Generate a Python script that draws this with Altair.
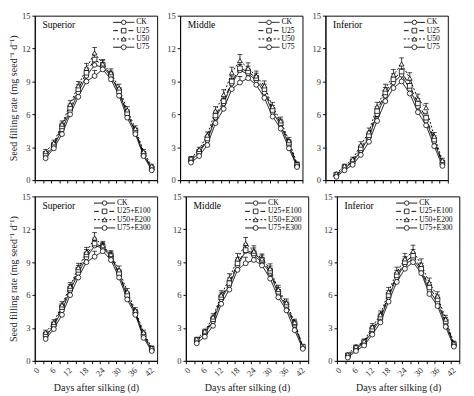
import altair as alt
import pandas as pd

days = [4, 7, 10, 13, 16, 19, 22, 25, 28, 31, 34, 37, 40, 43]
keys = ["s1", "s2", "s3", "s4"]
names_top = ["CK", "U25", "U50", "U75"]
names_bot = ["CK", "U25+E100", "U50+E200", "U75+E300"]
positions = ["Superior", "Middle", "Inferior"]

# ---- top row (urea treatments) ----
top_sup = {
    "s1": [2.2, 3.1, 4.6, 6.3, 8.0, 9.5, 10.5, 10.3, 9.5, 8.0, 6.0, 4.4, 2.4, 1.0],
    "s2": [2.4, 3.2, 4.9, 6.6, 8.3, 9.8, 11.0, 10.5, 9.6, 8.1, 6.1, 4.5, 2.4, 1.1],
    "s3": [2.6, 3.4, 5.1, 6.9, 8.6, 10.2, 11.6, 10.6, 9.8, 8.4, 6.4, 4.7, 2.6, 1.3],
    "s4": [2.0, 2.9, 4.2, 6.0, 7.6, 9.0, 9.5, 10.1, 9.2, 7.7, 5.7, 4.2, 2.2, 0.9],
}
top_mid = {
    "s1": [1.8, 2.5, 3.6, 5.7, 7.0, 8.8, 10.0, 9.7, 9.1, 8.0, 6.2, 5.0, 3.2, 1.3],
    "s2": [1.9, 2.6, 3.8, 5.9, 7.2, 9.0, 10.2, 9.9, 9.3, 8.3, 6.4, 5.2, 3.4, 1.4],
    "s3": [2.0, 2.8, 4.1, 6.3, 7.8, 9.8, 10.9, 10.2, 9.5, 8.6, 6.7, 5.4, 3.6, 1.5],
    "s4": [1.6, 2.2, 3.2, 5.2, 6.5, 8.3, 8.9, 9.3, 8.7, 7.5, 5.8, 4.7, 2.9, 1.2],
}
top_inf = {
    "s1": [0.4, 1.1, 1.6, 2.7, 3.9, 6.0, 7.7, 8.9, 9.6, 8.3, 6.7, 5.4, 3.5, 1.5],
    "s2": [0.5, 1.2, 1.7, 2.9, 4.1, 6.3, 8.0, 9.2, 9.9, 8.6, 7.0, 5.7, 3.7, 1.6],
    "s3": [0.6, 1.3, 1.9, 3.2, 4.4, 6.7, 8.3, 9.6, 10.6, 9.3, 7.4, 6.6, 4.0, 1.8],
    "s4": [0.3, 0.9, 1.4, 2.3, 3.5, 5.4, 7.2, 8.4, 9.0, 7.9, 6.2, 5.0, 3.1, 1.3],
}
# ---- bottom row (urea + enhancer treatments) ----
bot_sup = {
    "s1": [2.2, 3.2, 4.6, 6.4, 8.0, 9.4, 10.5, 10.3, 9.5, 7.9, 5.9, 4.4, 2.3, 1.0],
    "s2": [2.4, 3.3, 4.9, 6.6, 8.3, 9.7, 10.7, 10.4, 9.6, 8.0, 6.0, 4.4, 2.4, 1.1],
    "s3": [2.6, 3.5, 5.1, 6.8, 8.5, 9.9, 11.2, 10.5, 9.7, 8.3, 6.3, 4.6, 2.6, 1.2],
    "s4": [2.0, 2.9, 4.2, 6.0, 7.6, 9.0, 9.5, 10.0, 9.2, 7.6, 5.6, 4.2, 2.1, 0.9],
}
bot_mid = {
    "s1": [1.8, 2.5, 3.6, 5.6, 6.9, 8.7, 10.0, 9.6, 9.0, 8.0, 6.1, 4.9, 3.2, 1.2],
    "s2": [1.9, 2.6, 3.8, 5.8, 7.1, 8.9, 10.1, 9.8, 9.2, 8.2, 6.3, 5.1, 3.4, 1.3],
    "s3": [2.0, 2.7, 4.0, 6.0, 7.5, 9.3, 10.7, 10.0, 9.3, 8.4, 6.5, 5.3, 3.5, 1.3],
    "s4": [1.6, 2.2, 3.2, 5.2, 6.5, 8.3, 8.9, 9.2, 8.7, 7.5, 5.8, 4.6, 2.8, 1.1],
}
bot_inf = {
    "s1": [0.4, 1.1, 1.6, 2.7, 3.8, 5.8, 7.6, 8.8, 9.3, 8.2, 6.4, 5.3, 3.4, 1.4],
    "s2": [0.5, 1.2, 1.7, 2.9, 4.0, 6.0, 7.8, 9.0, 9.6, 8.4, 6.7, 5.6, 3.6, 1.5],
    "s3": [0.6, 1.3, 1.8, 3.1, 4.2, 6.3, 8.1, 9.3, 10.0, 8.8, 7.1, 5.9, 3.8, 1.6],
    "s4": [0.3, 0.9, 1.4, 2.4, 3.5, 5.4, 7.2, 8.4, 9.0, 8.0, 6.1, 5.0, 3.1, 1.3],
}
# error bar half-widths (upper caps), per day
err_sup = [0.2, 0.25, 0.3, 0.35, 0.4, 0.45, 0.5, 0.4, 0.35, 0.35, 0.3, 0.25, 0.2, 0.15]
err_mid = [0.15, 0.2, 0.3, 0.4, 0.45, 0.5, 0.55, 0.5, 0.45, 0.45, 0.4, 0.35, 0.3, 0.15]
err_inf = [0.1, 0.15, 0.2, 0.3, 0.35, 0.4, 0.45, 0.5, 0.55, 0.5, 0.45, 0.4, 0.35, 0.2]

SERIF = "Liberation Serif"
W, H = 128, 172

dash_scale = alt.Scale(domain=keys, range=[[1, 0], [5, 3], [2, 2], [1, 0]])
shape_scale = alt.Scale(domain=keys, range=["circle", "square", "triangle-up", "circle"])
size_scale = alt.Scale(domain=keys, range=[22, 26, 28, 40])


def panel(pos, names, vals, errs, bottom, left, leg_x):
    rows = []
    for k, n in zip(keys, names):
        for d, v, e in zip(days, vals[k], errs):
            rows.append({"day": d, "rate": v, "hi": round(v + e, 2), "key": k, "name": n})
    df = pd.DataFrame(rows)

    xaxis = alt.Axis(
        values=list(range(0, 46, 3)),
        labelExpr="datum.value % 6 == 0 ? datum.label : ''",
        labels=bottom,
        labelAngle=315,
        labelOverlap=False,
        titlePadding=5,
        title="Days after silking (d)" if bottom else None,
    )
    yaxis = alt.Axis(
        values=[0, 3, 6, 9, 12, 15],
        labelOverlap=False,
        title="Seed filling rate (mg seed\u207b\u00b9 d\u207b\u00b9)" if left else None,
    )
    yscale = alt.Scale(domain=[0, 15], nice=False)
    x = alt.X("day:Q", scale=alt.Scale(domain=[0, 45], nice=False), axis=xaxis)
    y = alt.Y("rate:Q", scale=yscale, axis=yaxis)

    base = alt.Chart(df)
    lines = base.mark_line(color="black", strokeWidth=1).encode(
        x=x, y=y,
        strokeDash=alt.StrokeDash("key:N", scale=dash_scale, legend=None),
        detail="key:N",
    )
    ebar = base.mark_rule(color="black", strokeWidth=0.8).encode(
        x=x, y=y, y2="hi:Q"
    )
    ecap = base.mark_tick(color="black", orient="horizontal", size=5, thickness=1).encode(
        x=x, y=alt.Y("hi:Q", scale=yscale, axis=yaxis)
    )
    pts = base.mark_point(filled=True, fill="white", stroke="black", strokeWidth=0.8, opacity=1).encode(
        x=x, y=y,
        shape=alt.Shape("key:N", scale=shape_scale, legend=None),
        size=alt.Size("key:O", scale=size_scale, legend=None),
    )
    data_layer = alt.layer(lines, ebar, ecap, pts)

    leg = pd.DataFrame({"key": keys, "name": names, "row": list(range(len(keys))), "pos": [pos] * 4})
    lb = alt.Chart(leg)
    ly = alt.Y("row:Q", scale=alt.Scale(domain=[0, 3], range=[7, 33], nice=False, zero=False), axis=None)
    lrule = lb.mark_rule(color="black", strokeWidth=1).encode(
        x=alt.value(leg_x), x2=alt.value(leg_x + 22), y=ly,
        strokeDash=alt.StrokeDash("key:N", scale=dash_scale, legend=None),
    )
    lpt = lb.mark_point(filled=True, fill="white", stroke="black", strokeWidth=0.8, opacity=1).encode(
        x=alt.value(leg_x + 11), y=ly,
        shape=alt.Shape("key:N", scale=shape_scale, legend=None),
        size=alt.Size("key:O", scale=size_scale, legend=None),
    )
    ltxt = lb.mark_text(align="left", baseline="middle", font=SERIF, fontSize=8, color="black").encode(
        x=alt.value(leg_x + 24), y=ly, text="name:N"
    )
    title = lb.transform_filter(alt.datum.row == 0).mark_text(
        align="left", baseline="middle", font=SERIF, fontSize=10, color="black"
    ).encode(x=alt.value(8), y=alt.value(10), text="pos:N")
    leg_layer = alt.layer(lrule, lpt, ltxt, title)

    return alt.layer(data_layer, leg_layer).resolve_scale(y="independent").properties(width=W, height=H)


top = alt.hconcat(
    panel("Superior", names_top, top_sup, err_sup, False, True, 82),
    panel("Middle", names_top, top_mid, err_mid, False, False, 82),
    panel("Inferior", names_top, top_inf, err_inf, False, False, 82),
    spacing=8,
)
bot = alt.hconcat(
    panel("Superior", names_bot, bot_sup, err_sup, True, True, 62),
    panel("Middle", names_bot, bot_mid, err_mid, True, False, 62),
    panel("Inferior", names_bot, bot_inf, err_inf, True, False, 62),
    spacing=8,
)

chart = alt.vconcat(top, bot, spacing=6).properties(
    padding={"left": 0, "top": -6, "right": 0, "bottom": 0}
).configure_view(
    stroke="black", strokeWidth=1
).configure_axis(
    labelFont=SERIF, titleFont=SERIF, labelFontSize=9, titleFontSize=10.5,
    titleFontWeight="normal", labelColor="#333333", titleColor="#222222",
    domainColor="black", tickColor="black", grid=False, tickSize=3,
    labelPadding=2, titlePadding=3,
).configure_text(font=SERIF)

chart.save("out.html", embed_options={"renderer": "svg", "actions": False})
